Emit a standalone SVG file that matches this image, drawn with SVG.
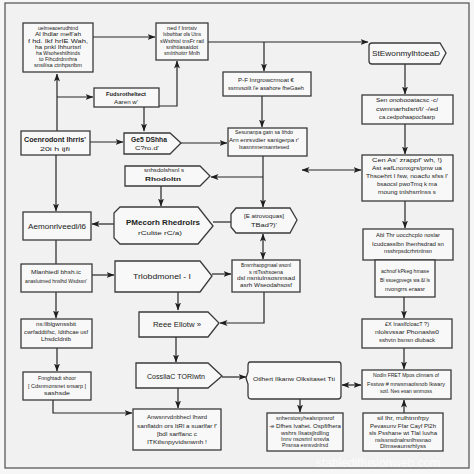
<svg xmlns="http://www.w3.org/2000/svg" width="474" height="474" viewBox="0 0 474 474">
<defs>
<marker id="ah" viewBox="0 0 8 6" refX="7.5" refY="3" markerWidth="8" markerHeight="6" markerUnits="userSpaceOnUse" orient="auto-start-reverse">
<path d="M0,0 L8,3 L0,6 L2,3 z" fill="#1e1e1e"/>
</marker>
<style>
.n{fill:#f8f8f8;stroke:#3a3a3a;stroke-width:1.3}
.c{fill:none;stroke:#262626;stroke-width:1.2}
.a{marker-end:url(#ah)}
.b{marker-start:url(#ah);marker-end:url(#ah)}
text{font-family:"Liberation Sans",Arial,sans-serif;fill:#222;text-anchor:middle}
.s{font-size:5px}
.m{font-size:6px}
.l{font-size:7.5px;font-weight:bold}
.r{font-size:7.5px}
</style>
</defs>
<rect width="474" height="474" fill="#f6f6f6"/>
<rect x="5" y="3" width="464" height="465" fill="#f1f1f1" stroke="#5a5a5a" stroke-width="1.3"/>

<g id="connectors">
<path class="c a" d="M93,37 H155"/>
<path class="c a" d="M208,42 H368"/>
<path class="c a" d="M264,42 V71"/>
<path class="c a" d="M57,131 V74"/>
<path class="c a" d="M57,97 H93"/>
<path class="c a" d="M159,106 H177 V61"/>
<path class="c a" d="M144,107 V131"/>
<path class="c a" d="M90,142 H123"/>
<path class="c a" d="M181,143 H227"/>
<path class="c a" d="M262,96 V127"/>
<path class="c a" d="M263,156 V207"/>
<path class="c a" d="M263,177 H211"/>
<path class="c b" d="M302,170 H361"/>
<path class="c a" d="M405,64 V94"/>
<path class="c a" d="M405,124 V154"/>
<path class="c a" d="M405,201 V228"/>
<path class="c a" d="M404,297 V318"/>
<path class="c a" d="M404,348 V369"/>
<path class="c a" d="M404,413 V400"/>
<path class="c b" d="M342,385 H361"/>
<path class="c a" d="M222,377 H246"/>
<path class="c a" d="M300,399 V412"/>
<path class="c a" d="M264,292 V323 H220"/>
<path class="c b" d="M263,234 V259"/>
<path class="c" d="M213,222 H232"/>
<path class="c a" d="M114,224 H92"/>
<path class="c a" d="M161,186 V206"/>
<path class="c a" d="M56,155 V211"/>
<path class="c" d="M56,240 V264"/>
<path class="c a" d="M92,275 H114"/>
<path class="c a" d="M212,274 H231"/>
<path class="c a" d="M178,292 V310"/>
<path class="c a" d="M56,292 V318"/>
<path class="c a" d="M57,348 V371"/>
<path class="c a" d="M53,400 V413 H132"/>
<path class="c a" d="M176,337 V362"/>
<path class="c a" d="M178,388 V408"/>
</g>

<g id="n1"><rect class="n" x="23" y="23" width="70" height="49"/>
<text class="s" x="58" y="30" textLength="40" lengthAdjust="spacingAndGlyphs">uelmeaoerudhtnd</text>
<text class="m" x="58" y="36" textLength="46" lengthAdjust="spacingAndGlyphs">Al lhdlar mefl'ah</text>
<text class="m" x="58" y="43" textLength="60" lengthAdjust="spacingAndGlyphs">f hd. Ikf hrIE Wah,</text>
<text class="s" x="58" y="49" textLength="46" lengthAdjust="spacingAndGlyphs">ha pnkl Ihhurtsrl</text>
<text class="s" x="58" y="55" textLength="44" lengthAdjust="spacingAndGlyphs">ha Wsoheshtlhinds</text>
<text class="s" x="58" y="61" textLength="38" lengthAdjust="spacingAndGlyphs">to Fihcdrdnnhra</text>
<text class="s" x="58" y="67" textLength="48" lengthAdjust="spacingAndGlyphs">snsilisa ctnhpsribm</text></g>

<g id="n2"><rect class="n" x="156" y="23" width="52" height="37"/>
<text class="s" x="182" y="30" textLength="30" lengthAdjust="spacingAndGlyphs">ned f Inrtsiv</text>
<text class="s" x="182" y="36" textLength="38" lengthAdjust="spacingAndGlyphs">Isbwhbar ofa Utns</text>
<text class="s" x="182" y="43" textLength="44" lengthAdjust="spacingAndGlyphs">sWsthtsl tnsFr ratl</text>
<text class="s" x="182" y="49" textLength="32" lengthAdjust="spacingAndGlyphs">snihtiasaidot</text>
<text class="s" x="182" y="55" textLength="36" lengthAdjust="spacingAndGlyphs">smlrthoitrr Mnlh</text></g>

<g id="n3"><rect class="n" x="94" y="88" width="65" height="19"/>
<text class="m" x="126" y="96" font-weight="bold" textLength="40" lengthAdjust="spacingAndGlyphs">Fudsrotheltect</text>
<text class="s" x="126" y="104" textLength="24" lengthAdjust="spacingAndGlyphs">Aaren w'</text></g>

<g id="n4"><rect class="n" x="21" y="131" width="69" height="24"/>
<text class="l" x="55" y="142" textLength="62" lengthAdjust="spacingAndGlyphs">Coenrodont Ihrris'</text>
<text class="m" x="55" y="151" textLength="30" lengthAdjust="spacingAndGlyphs">20i h ijfi</text></g>

<g id="n5"><polygon class="n" points="124,133 170,133 181,143 170,154 124,154"/>
<text class="l" x="149" y="142" textLength="36" lengthAdjust="spacingAndGlyphs">Ge5 DShha</text>
<text class="m" x="147" y="150" textLength="24" lengthAdjust="spacingAndGlyphs">C?ro.d'</text></g>

<g id="n6"><rect class="n" x="228" y="128" width="79" height="28"/>
<text class="s" x="264" y="134" textLength="58" lengthAdjust="spacingAndGlyphs">Sesunanpa gatn sa Ithdo</text>
<text class="m" x="264" y="142" textLength="70" lengthAdjust="spacingAndGlyphs">Arn enrsvdier sanigerpa r'</text>
<text class="s" x="264" y="149" textLength="50" lengthAdjust="spacingAndGlyphs">lsasnmnensanrtesed</text></g>

<g id="n7"><rect class="n" x="223" y="72" width="88" height="24"/>
<text class="m" x="266" y="82" textLength="56" lengthAdjust="spacingAndGlyphs">P-F Inrgrowcrmoat €</text>
<text class="s" x="266" y="90" textLength="76" lengthAdjust="spacingAndGlyphs">ssmvsoilt l'e asahore fheGaeh</text></g>

<g id="n8"><path class="n" d="M372,43 H440 L446,53 L440,64 H372 Q369,64 369,61 V46 Q369,43 372,43 Z"/>
<text class="r" x="406" y="56" textLength="68" lengthAdjust="spacingAndGlyphs">StEwonmylhtoeaD</text></g>

<g id="n9"><rect class="n" x="362" y="95" width="91" height="29"/>
<text class="s" x="407" y="102" textLength="62" lengthAdjust="spacingAndGlyphs">Sen onobooatacsc  -c/</text>
<text class="m" x="407" y="111" textLength="62" lengthAdjust="spacingAndGlyphs">cwmnarhdsrt/l/ -/ed</text>
<text class="s" x="407" y="119" textLength="56" lengthAdjust="spacingAndGlyphs">ca.cedpohaapocfaarp</text></g>

<g id="n10"><rect class="n" x="362" y="155" width="91" height="46"/>
<text class="s" x="407" y="162" textLength="70" lengthAdjust="spacingAndGlyphs">Cen As' zrappf' wh,  !)</text>
<text class="m" x="407" y="170" textLength="70" lengthAdjust="spacingAndGlyphs">Ast eafLnonxgrs/pnw ua</text>
<text class="m" x="407" y="178" textLength="82" lengthAdjust="spacingAndGlyphs">Thsoehrt l fsw, noacfu sfss l'</text>
<text class="s" x="407" y="186" textLength="60" lengthAdjust="spacingAndGlyphs">bsaocsl pwoTmq k ma</text>
<text class="s" x="407" y="194" textLength="58" lengthAdjust="spacingAndGlyphs">rnoung tnlshsrrlnss s</text></g>

<g id="n11"><rect class="n" x="363" y="229" width="90" height="31"/>
<text class="s" x="408" y="237" textLength="64" lengthAdjust="spacingAndGlyphs">Abl Thr uocchcplo noslar</text>
<text class="m" x="408" y="246" textLength="72" lengthAdjust="spacingAndGlyphs">Icudcasslbn Ihenhsdrad sn</text>
<text class="s" x="408" y="253" textLength="48" lengthAdjust="spacingAndGlyphs">nsshrpsdcrhrtnlnsn</text></g>

<g id="n12"><rect class="n" x="375" y="260" width="60" height="37"/>
<text class="s" x="405" y="273" textLength="48" lengthAdjust="spacingAndGlyphs">achnof kPkeg hmase</text>
<text class="m" x="405" y="282" textLength="50" lengthAdjust="spacingAndGlyphs">Bl ssuegpvegs wa &amp;l ls</text>
<text class="s" x="405" y="291" textLength="40" lengthAdjust="spacingAndGlyphs">nvongrrs eraasr</text></g>

<g id="n13"><polygon class="n" points="236,208 290,208 297,220 290,233 236,233 231,227 231,214"/>
<text class="m" x="264" y="218" textLength="40" lengthAdjust="spacingAndGlyphs">[E atrovoquas]</text>
<text class="m" x="264" y="227" textLength="26" lengthAdjust="spacingAndGlyphs">TBad?)'</text></g>

<g id="n14"><rect class="n" x="232" y="260" width="68" height="32"/>
<text class="s" x="266" y="267" textLength="50" lengthAdjust="spacingAndGlyphs">Bnsrnhaopgmaal wsonl</text>
<text class="s" x="266" y="274" textLength="34" lengthAdjust="spacingAndGlyphs">s ntTsshsoena</text>
<text class="s" x="266" y="280" textLength="58" lengthAdjust="spacingAndGlyphs">dsl nsniulnsosnnsad</text>
<text class="s" x="266" y="287" textLength="52" lengthAdjust="spacingAndGlyphs">asrh Wseodahsosf</text></g>

<g id="n16"><polygon class="n" points="125,166 200,166 210,176 200,186 125,186"/>
<text class="s" x="164" y="172" textLength="40" lengthAdjust="spacingAndGlyphs">snhsdolshsnl  s</text>
<text class="m" x="163" y="181" font-weight="bold" textLength="36" lengthAdjust="spacingAndGlyphs">Rhodoltn</text></g>

<g id="n17"><rect class="n" x="23" y="212" width="68" height="28"/>
<text class="r" x="57" y="229" textLength="58" lengthAdjust="spacingAndGlyphs">Aemonrlveedl/l6</text></g>

<g id="n18"><polygon class="n" points="120,207 198,207 213,226 198,244 120,244 114,238 114,213"/>
<text class="l" x="163" y="225" textLength="74" lengthAdjust="spacingAndGlyphs">PMecorh  Rhedrolrs</text>
<text class="m" x="160" y="235" textLength="44" lengthAdjust="spacingAndGlyphs">rCultte   rC/a)</text></g>

<g id="n19"><rect class="n" x="21" y="264" width="71" height="28"/>
<text class="s" x="56" y="274" textLength="50" lengthAdjust="spacingAndGlyphs">Mlanhiedl bhsh.ic</text>
<text class="s" x="56" y="283" textLength="62" lengthAdjust="spacingAndGlyphs">anaslutmed hnslhd Wsdssn'</text></g>

<g id="n20"><polygon class="n" points="115,261 200,261 212,276 200,292 115,292"/>
<text class="r" x="162" y="279" textLength="58" lengthAdjust="spacingAndGlyphs">Trlobdmonel  -  I</text></g>

<g id="n21"><rect class="n" x="21" y="319" width="71" height="29"/>
<text class="s" x="56" y="326" textLength="40" lengthAdjust="spacingAndGlyphs">ns:llblgwnssbit</text>
<text class="s" x="56" y="334" textLength="64" lengthAdjust="spacingAndGlyphs">cwrfaddtifsc, Idtthcae usf</text>
<text class="s" x="56" y="341" textLength="30" lengthAdjust="spacingAndGlyphs">Lhsdcldnib</text></g>

<g id="n22"><polygon class="n" points="139,312 208,312 219,323 208,337 139,337"/>
<text class="r" x="177" y="327" textLength="48" lengthAdjust="spacingAndGlyphs">Reee Ellotw »</text></g>

<g id="n23"><rect class="n" x="23" y="372" width="68" height="28"/>
<text class="s" x="57" y="380" textLength="38" lengthAdjust="spacingAndGlyphs">Fnnghtadt shoor</text>
<text class="s" x="57" y="388" textLength="58" lengthAdjust="spacingAndGlyphs">[ Cdsnmonsnet snsarp  ]</text>
<text class="s" x="57" y="395" textLength="26" lengthAdjust="spacingAndGlyphs">sashsde</text></g>

<g id="n24"><polygon class="n" points="136,363 208,363 222,376 208,388 136,388"/>
<text class="r" x="176" y="379" textLength="58" lengthAdjust="spacingAndGlyphs">CossliaC TORIwtn</text></g>

<g id="n25"><rect class="n" x="133" y="409" width="88" height="41"/>
<text class="s" x="177" y="419" textLength="60" lengthAdjust="spacingAndGlyphs">Anwsnrvdnbhecl Ihwrd</text>
<text class="s" x="177" y="428" textLength="80" lengthAdjust="spacingAndGlyphs">sanflatdn ors ItRl a suarlfar f'</text>
<text class="s" x="177" y="436" textLength="40" lengthAdjust="spacingAndGlyphs">[bdl sarffanc c</text>
<text class="s" x="177" y="444" textLength="60" lengthAdjust="spacingAndGlyphs">ITKtlsnpyvidsnwnh !</text></g>

<g id="n26"><path class="n" d="M250,362 H339 Q341,362 341,365 V396 Q341,399 338,399 H251 Q248,399 248,395 V384 L246,378 L248,372 V366 Q248,362 250,362 Z"/>
<text class="m" x="294" y="381" textLength="82" lengthAdjust="spacingAndGlyphs">Otlhert Ilkanw Olksitaset Tti</text></g>

<g id="n27"><rect class="n" x="362" y="319" width="90" height="29"/>
<text class="s" x="407" y="326" textLength="44" lengthAdjust="spacingAndGlyphs">£X InaslfcloacT  ?)</text>
<text class="m" x="407" y="334" textLength="64" lengthAdjust="spacingAndGlyphs">nlolsvssar Phonaslw0</text>
<text class="s" x="407" y="342" textLength="56" lengthAdjust="spacingAndGlyphs">sshvtn bsnsn dluback</text></g>

<g id="n28"><rect class="n" x="362" y="370" width="89" height="29"/>
<text class="s" x="406" y="377" textLength="66" lengthAdjust="spacingAndGlyphs">Nodln FRET Mpos clinnars  of</text>
<text class="s" x="406" y="386" textLength="78" lengthAdjust="spacingAndGlyphs">Fsstvw # mrwsmaolsnob Ikwary</text>
<text class="s" x="406" y="393" textLength="52" lengthAdjust="spacingAndGlyphs">sotl. Nes esan wnrnoss</text></g>

<g id="n29"><rect class="n" x="267" y="413" width="76" height="38"/>
<text class="s" x="305" y="420" textLength="58" lengthAdjust="spacingAndGlyphs">snhenstosyhealsnpnsrof</text>
<text class="s" x="305" y="428" textLength="72" lengthAdjust="spacingAndGlyphs">-e Dfhes lvahet.  Ospfifhera</text>
<text class="s" x="305" y="435" textLength="48" lengthAdjust="spacingAndGlyphs">wshrs Ilsatsjlrdllng</text>
<text class="s" x="305" y="441" textLength="48" lengthAdjust="spacingAndGlyphs">Innv nsosrinl snsvla</text>
<text class="s" x="305" y="447" textLength="46" lengthAdjust="spacingAndGlyphs">Pnsnsa esnsvdnlrsd</text></g>

<g id="n30"><rect class="n" x="363" y="413" width="80" height="38"/>
<text class="s" x="403" y="420" textLength="52" lengthAdjust="spacingAndGlyphs">sil Ihr, rrulhtnnfrpy</text>
<text class="s" x="403" y="428" textLength="66" lengthAdjust="spacingAndGlyphs">Pevasunv Ffar Cayf Pl2h</text>
<text class="s" x="403" y="435" textLength="68" lengthAdjust="spacingAndGlyphs">sls Psshane wt Tlal Iuvha</text>
<text class="s" x="403" y="442" textLength="56" lengthAdjust="spacingAndGlyphs">nslssnsdnalrsnlhssnao</text>
<text class="s" x="403" y="448" textLength="46" lengthAdjust="spacingAndGlyphs">Dlmseaunsrhlyss</text></g>

<text x="378" y="467" style="font-size:12px;fill:#ffffff;opacity:0.7">stablediffusionweb.com</text>
</svg>
